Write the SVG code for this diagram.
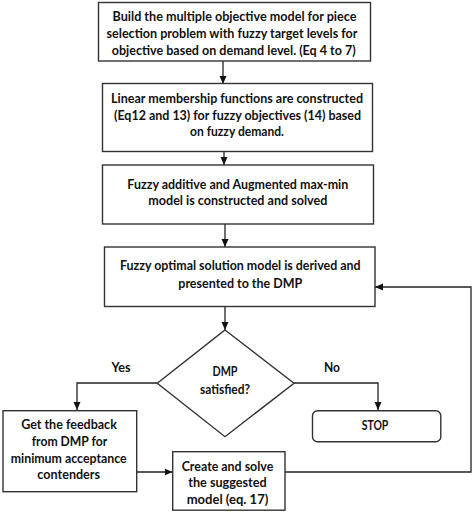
<svg xmlns="http://www.w3.org/2000/svg" width="474" height="513" viewBox="0 0 474 513">
<defs>
<marker id="arr" markerUnits="userSpaceOnUse" markerWidth="8" markerHeight="8" refX="8" refY="4" orient="auto">
<path d="M0,0.5 L8,4 L0,7.5 z" fill="#111"/>
</marker>
<style>
.box{fill:#fff;stroke:#333;stroke-width:1.4}
.t{font-family:Lato,"Liberation Sans",sans-serif;font-weight:bold;font-size:14px;fill:#111;text-anchor:middle}
.c{fill:none;stroke:#222;stroke-width:1.3}
</style>
</defs>
<rect width="474" height="513" fill="#fff"/>
<g id="connectors">
<line class="c" x1="223" y1="61" x2="223" y2="84" marker-end="url(#arr)"/>
<line class="c" x1="224" y1="152" x2="224" y2="165" marker-end="url(#arr)"/>
<line class="c" x1="225" y1="224" x2="225" y2="247" marker-end="url(#arr)"/>
<line class="c" x1="225" y1="307" x2="225" y2="330" marker-end="url(#arr)"/>
<polyline class="c" points="157,383 77,383 77,410" marker-end="url(#arr)"/>
<polyline class="c" points="294,383 378,383 378,410" marker-end="url(#arr)"/>
<line class="c" x1="137" y1="472" x2="172.5" y2="472" marker-end="url(#arr)"/>
<polyline class="c" points="285,472 471,472 471,287 375,287" marker-end="url(#arr)"/>
<text class="t" x="121" y="372" textLength="19" lengthAdjust="spacingAndGlyphs">Yes</text>
<text class="t" x="332" y="372" textLength="16" lengthAdjust="spacingAndGlyphs">No</text>
</g>
<g id="n1">
<rect class="box" x="98.5" y="2.5" width="272" height="58.5"/>
<text class="t" x="234.5" y="20.5" textLength="244" lengthAdjust="spacingAndGlyphs">Build the multiple objective model for piece</text>
<text class="t" x="232" y="37.5" textLength="251" lengthAdjust="spacingAndGlyphs">selection problem with fuzzy target levels for</text>
<text class="t" x="233.7" y="54.5" textLength="244" lengthAdjust="spacingAndGlyphs">objective based on demand level. (Eq 4 to 7)</text>
</g>
<g id="n2">
<rect class="box" x="102.5" y="83.5" width="270" height="68"/>
<text class="t" x="237" y="103" textLength="252" lengthAdjust="spacingAndGlyphs">Linear membership functions are constructed</text>
<text class="t" x="237.5" y="120" textLength="247" lengthAdjust="spacingAndGlyphs">(Eq12 and 13) for fuzzy objectives (14) based</text>
<text class="t" x="237" y="136" textLength="94" lengthAdjust="spacingAndGlyphs">on fuzzy demand.</text>
</g>
<g id="n3">
<rect class="box" x="102.5" y="165" width="271" height="59"/>
<text class="t" x="237.8" y="188.5" textLength="221" lengthAdjust="spacingAndGlyphs">Fuzzy additive and Augmented max-min</text>
<text class="t" x="237.8" y="205" textLength="179" lengthAdjust="spacingAndGlyphs">model is constructed and solved</text>
</g>
<g id="n4">
<rect class="box" x="104.5" y="247" width="270.5" height="59.5"/>
<text class="t" x="240.3" y="269.5" textLength="240.7" lengthAdjust="spacingAndGlyphs">Fuzzy optimal solution model is derived and</text>
<text class="t" x="240.3" y="288" textLength="124" lengthAdjust="spacingAndGlyphs">presented to the DMP</text>
</g>
<g id="decision">
<polygon class="box" points="225,330 294,383.3 225,436.7 157.3,383.3"/>
<text class="t" x="225" y="375.5" textLength="25" lengthAdjust="spacingAndGlyphs">DMP</text>
<text class="t" x="225" y="394" textLength="50" lengthAdjust="spacingAndGlyphs">satisfied?</text>
</g>
<g id="feedback">
<rect class="box" x="3" y="410.7" width="133.7" height="81"/>
<text class="t" x="69" y="428.5" textLength="95.7" lengthAdjust="spacingAndGlyphs">Get the feedback</text>
<text class="t" x="69.5" y="446" textLength="75.6" lengthAdjust="spacingAndGlyphs">from DMP for</text>
<text class="t" x="68.7" y="463" textLength="116" lengthAdjust="spacingAndGlyphs">minimum acceptance</text>
<text class="t" x="68.7" y="478.5" textLength="62.7" lengthAdjust="spacingAndGlyphs">contenders</text>
</g>
<g id="stop">
<rect class="box" x="312.5" y="410.7" width="128.3" height="31" rx="5" ry="5"/>
<text class="t" x="375" y="429.5" textLength="26.7" lengthAdjust="spacingAndGlyphs">STOP</text>
</g>
<g id="create">
<rect class="box" x="172.7" y="451.7" width="112.3" height="58.5"/>
<text class="t" x="227.5" y="470.5" textLength="91.6" lengthAdjust="spacingAndGlyphs">Create and solve</text>
<text class="t" x="227.5" y="487" textLength="78.4" lengthAdjust="spacingAndGlyphs">the suggested</text>
<text class="t" x="227.5" y="503.5" textLength="81.6" lengthAdjust="spacingAndGlyphs">model (eq. 17)</text>
</g>
</svg>
